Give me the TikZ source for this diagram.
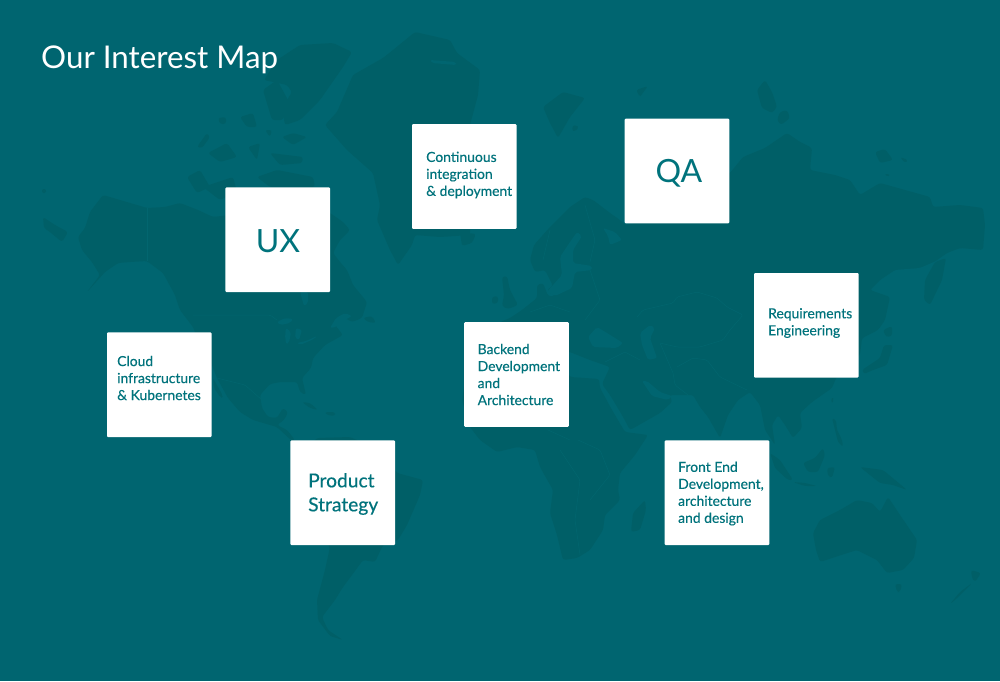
\documentclass[tikz,border=0pt]{standalone}
\usepackage{fontspec}
\setmainfont{Lato}
\newfontfamily\medfont{Lato}[FakeBold=0.35]
\definecolor{bgteal}{HTML}{006570}
\definecolor{landteal}{HTML}{005F67}
\definecolor{lineteal}{HTML}{02666F}
\definecolor{inkteal}{HTML}{00737C}
\tikzset{
  land/.style={fill=landteal,draw=none,rounded corners=2.5pt},
  sea/.style={fill=bgteal,draw=none,rounded corners=2pt},
  border/.style={draw=lineteal,line width=0.5pt,rounded corners=1.5pt},
  card/.style={fill=white,draw=none,rounded corners=1pt,minimum width=104.6pt,minimum height=104.6pt,inner sep=0pt},
  small/.style={text=inkteal,font=\medfont\fontsize{13.9}{17}\selectfont,align=left,anchor=west,inner sep=0pt},
  mid/.style={text=inkteal,font=\medfont\fontsize{19.2}{24}\selectfont,align=left,anchor=west,inner sep=0pt},
  big/.style={text=inkteal,font=\fontsize{32}{36}\selectfont,anchor=center,inner sep=0pt}
}
\begin{document}
\begin{tikzpicture}[x=1pt,y=-1pt]
\useasboundingbox (0,0) rectangle (1000,681);
\fill[bgteal] (0,0) rectangle (1000,681);
% North America
\fill[land] (103,195) -- (120,200) -- (147,208) -- (165,207) -- (180,203) -- (198,210) -- (213,217) -- (230,215) -- (290,205) -- (330,213) -- (343,222) -- (350,230) -- (340,240) -- (333,253) -- (340,262) -- (347,270) -- (353,285) -- (367,302) -- (362,318) -- (352,322) -- (345,318) -- (335,325) -- (343,335) -- (325,345) -- (313,358) -- (311,368) -- (302,378) -- (306,395) -- (300,392) -- (297,382) -- (280,382) -- (270,384) -- (260,395) -- (262,408) -- (268,417) -- (277,418) -- (283,408) -- (288,412) -- (284,420) -- (277,425) -- (287,430) -- (295,440) -- (292,441) -- (277,427) -- (253,420) -- (240,412) -- (228,398) -- (217,378) -- (210,360) -- (200,345) -- (193,327) -- (180,310) -- (175,295) -- (163,273) -- (147,261) -- (130,262) -- (118,263) -- (105,272) -- (87,292) -- (100,275) -- (92,262) -- (82,250) -- (78,237) -- (85,228) -- (90,212) -- cycle;
\fill[land] (213,378) -- (223,396) -- (221,398) -- (214,388) -- cycle;
% Great Lakes and bays
\fill[sea] (277,322) -- (285,318) -- (293,319) -- (290,323) -- (280,325) -- cycle;
\fill[sea] (286,328) -- (291,332) -- (289,343) -- (286,344) -- (285,335) -- cycle;
\fill[sea] (296,328) -- (302,330) -- (299,340) -- (295,338) -- cycle;
\fill[sea] (297,343) -- (306,341) -- (317,336) -- (314,339) -- (300,345) -- cycle;
\fill[sea] (330,328) -- (336,318) -- (345,313) -- (352,316) -- (345,320) -- (336,327) -- cycle;
\fill[sea] (300,292) -- (308,292) -- (308,303) -- (304,306) -- cycle;
\fill[land] (363,318) -- (372,316) -- (376,323) -- (368,322) -- cycle;
% Arctic islands
\fill[land] (264,80) -- (277,60) -- (300,45) -- (333,43) -- (352,52) -- (343,67) -- (320,100) -- (300,120) -- (285,125) -- (282,108) -- (292,92) -- (287,85) -- cycle;
\fill[land] (263,90) -- (277,80) -- (288,100) -- (283,120) -- (272,120) -- cycle;
\fill[land] (187,177) -- (200,170) -- (210,187) -- (197,193) -- cycle;
\fill[land] (203,187) -- (233,177) -- (237,192) -- (220,200) -- cycle;
\fill[land] (197,147) -- (207,133) -- (210,137) -- (202,148) -- cycle;
\fill[land] (208,153) -- (227,143) -- (237,157) -- (220,162) -- cycle;
\fill[land] (240,117) -- (253,113) -- (257,127) -- (247,127) -- cycle;
\fill[land] (248,147) -- (260,143) -- (257,160) -- cycle;
\fill[land] (270,153) -- (303,157) -- (302,163) -- (280,165) -- cycle;
\fill[land] (282,137) -- (293,133) -- (307,137) -- (293,145) -- cycle;
\fill[land] (257,177) -- (277,170) -- (313,177) -- (315,187) -- (270,187) -- cycle;
\fill[land] (218,118) -- (226,117) -- (226,124) -- (220,124) -- cycle;
\fill[land] (265,130) -- (272,130) -- (270,137) -- cycle;
% Chukotka on the left edge
\fill[land] (43,217) -- (55,225) -- (68,232) -- (62,242) -- (50,232) -- (44,228) -- cycle;
\fill[land] (44,191) circle (2);
% Greenland
\fill[land] (393,50) -- (415,32) -- (450,40) -- (457,53) -- (480,70) -- (478,95) -- (470,125) -- (470,235) -- (440,237) -- (415,235) -- (412,245) -- (398,265) -- (390,250) -- (377,220) -- (380,205) -- (373,173) -- (347,150) -- (325,125) -- (337,112) -- (353,75) -- (383,58) -- cycle;
\fill[sea] (430,60) -- (456,62) -- (456,65) -- (432,63) -- cycle;
\fill[land] (460,232) -- (476,234) -- (472,243) -- (462,246) -- cycle;
% Eurasia
\fill[land] (530,260) -- (534,245) -- (550,227) -- (570,207) -- (585,197) -- (593,200) -- (610,213) -- (620,220) -- (625,225) -- (640,222) -- (700,190) -- (730,173) -- (743,157) -- (765,148) -- (787,133) -- (800,142) -- (812,148) -- (810,170) -- (835,175) -- (850,180) -- (860,195) -- (880,183) -- (905,190) -- (930,197) -- (933,207) -- (960,205) -- (983,208) -- (985,225) -- (983,250) -- (960,248) -- (947,253) -- (930,265) -- (913,270) -- (895,270) -- (880,280) -- (870,290) -- (890,297) -- (885,320) -- (878,330) -- (862,338) -- (860,355) -- (850,362) -- (836,378) -- (832,388) -- (812,402) -- (800,413) -- (802,428) -- (793,438) -- (785,425) -- (778,415) -- (772,425) -- (775,445) -- (765,430) -- (760,405) -- (750,392) -- (738,400) -- (728,415) -- (720,438) -- (708,417) -- (700,407) -- (693,395) -- (670,395) -- (672,402) -- (660,413) -- (630,430) -- (622,415) -- (610,395) -- (602,384) -- (610,367) -- (590,360) -- (570,352) -- (540,350) -- (500,350) -- (490,340) -- (500,322) -- (510,318) -- (522,310) -- (537,298) -- (537,285) -- (543,283) -- (548,296) -- (555,296) -- (547,290) -- (553,286) -- (545,270) -- (535,272) -- cycle;
% UK, Ireland
\fill[land] (502,277) -- (507,276) -- (510,290) -- (518,305) -- (508,309) -- (502,306) -- (504,295) -- cycle;
\fill[land] (492,297) -- (498,296) -- (498,303) -- (492,304) -- cycle;
% Inner seas of Eurasia
\fill[sea] (577,232) -- (582,236) -- (573,250) -- (573,263) -- (592,266) -- (592,270) -- (575,272) -- (572,288) -- (555,296) -- (547,292) -- (553,285) -- (562,275) -- (560,257) -- (568,245) -- cycle;
\fill[sea] (603,228) -- (615,232) -- (622,240) -- (610,245) -- (608,236) -- cycle;
\fill[sea] (588,337) -- (597,327) -- (607,333) -- (623,343) -- (617,348) -- (593,347) -- cycle;
\fill[sea] (640,333) -- (650,325) -- (655,328) -- (650,338) -- (657,358) -- (648,360) -- (642,345) -- cycle;
\fill[sea] (642,381) -- (647,381) -- (660,392) -- (672,396) -- (668,400) -- (652,396) -- cycle;
\fill[sea] (950,255) -- (945,262) -- (925,272) -- (910,275) -- (885,290) -- (878,285) -- (895,270) -- (920,268) -- cycle;
% Sakhalin, Japan, Kurils
\fill[land] (925,280) -- (935,262) -- (946,258) -- (942,280) -- (930,305) -- (924,300) -- cycle;
\fill[land] (893,345) -- (887,365) -- (873,370) -- (864,374) -- (862,370) -- (880,358) -- (884,345) -- cycle;
\fill[land] (883,330) -- (892,326) -- (892,336) -- (886,337) -- cycle;
% Africa
\fill[land] (470,350) -- (530,352) -- (565,368) -- (570,377) -- (585,378) -- (599,379) -- (600,388) -- (612,410) -- (625,432) -- (648,435) -- (635,455) -- (620,473) -- (618,490) -- (620,500) -- (605,515) -- (603,530) -- (590,550) -- (577,558) -- (563,560) -- (557,535) -- (550,513) -- (553,490) -- (540,467) -- (535,450) -- (517,447) -- (497,452) -- (480,440) -- (470,427) -- (462,400) -- cycle;
% Madagascar
\fill[land] (645,500) -- (646,510) -- (640,530) -- (631,532) -- (633,513) -- cycle;
% South America
\fill[land] (317,438) -- (350,437) -- (380,450) -- (397,473) -- (423,480) -- (420,495) -- (407,525) -- (398,540) -- (383,545) -- (375,562) -- (363,560) -- (352,575) -- (343,587) -- (335,600) -- (322,617) -- (328,630) -- (343,640) -- (330,636) -- (318,620) -- (317,600) -- (325,570) -- (330,547) -- (310,520) -- (295,490) -- (300,455) -- cycle;
% Islands of the Caribbean
\fill[land] (302,402) -- (310,403) -- (318,410) -- (310,408) -- cycle;
\fill[land] (325,412) -- (335,412) -- (335,416) -- (327,415) -- cycle;
% Arctic Russia
\fill[land] (757,90) -- (765,80) -- (772,92) -- (777,107) -- (772,113) -- (762,108) -- cycle;
\fill[land] (780,112) -- (787,110) -- (790,118) -- (781,125) -- (777,120) -- cycle;
\fill[land] (543,107) -- (563,92) -- (585,98) -- (570,117) -- (558,138) -- (550,123) -- cycle;
\fill[land] (572,126) -- (576,125) -- (579,128) -- (573,132) -- cycle;
\fill[land] (636,90) -- (648,86) -- (642,94) -- (640,97) -- cycle;
\fill[land] (875,152) -- (885,149) -- (893,160) -- (880,163) -- cycle;
\fill[land] (900,157) -- (908,160) -- (905,163) -- cycle;
\fill[land] (884,174) -- (890,174) -- (888,177) -- cycle;
% South-East Asia
\fill[land] (770,453) -- (780,460) -- (793,480) -- (788,480) -- (775,468) -- cycle;
\fill[land] (793,482) -- (805,483) -- (817,486) -- (805,486) -- cycle;
\fill[land] (803,463) -- (815,458) -- (823,448) -- (825,455) -- (818,472) -- (808,472) -- cycle;
\fill[land] (827,468) -- (835,467) -- (832,478) -- (828,476) -- cycle;
\fill[land] (832,418) -- (836,420) -- (837,430) -- (842,440) -- (843,447) -- (838,442) -- cycle;
\fill[land] (831,398) -- (834,398) -- (832,404) -- cycle;
\fill[land] (860,467) -- (883,470) -- (895,480) -- (907,490) -- (893,485) -- (880,483) -- (870,475) -- cycle;
% Australia
\fill[land] (813,533) -- (820,520) -- (840,510) -- (857,500) -- (872,503) -- (880,512) -- (888,497) -- (900,515) -- (917,540) -- (914,558) -- (903,570) -- (887,573) -- (877,560) -- (857,550) -- (838,556) -- (820,562) -- (816,550) -- cycle;
\fill[land] (895,584) -- (902,584) -- (900,592) -- (897,592) -- cycle;
% New Zealand
\fill[land] (971,570) -- (981,573) -- (975,582) -- (972,578) -- cycle;
\fill[land] (972,583) -- (960,595) -- (955,600) -- (950,604) -- (960,592) -- cycle;
% Borders
\draw[border] (147,208) -- (147,261);
\draw[border] (193,315) -- (270,315) -- (277,320);
\draw[border] (217,378) -- (245,385) -- (262,400);
\draw[border] (578,440) -- (600,450) -- (610,475) -- (590,500);
\draw[border] (560,450) -- (580,480) -- (575,520) -- (580,555);
\draw[border] (548,430) -- (570,440);
\draw[border] (637,317) -- (643,310) -- (673,303) -- (677,297) -- (697,292) -- (717,298) -- (727,307) -- (743,315) -- (730,330) -- (723,340) -- (700,347) -- (677,347) -- (660,343);
\draw[border] (677,367) -- (693,358) -- (707,360) -- (720,377) -- (747,390);
\draw[border] (673,373) -- (675,385) -- (688,395);
\draw[border] (660,343) -- (673,373);
\draw[border] (605,362) -- (625,352) -- (640,360);
\draw[border] (590,270) -- (600,300) -- (585,320);
\draw[border] (550,230) -- (543,260);
\draw[border] (585,205) -- (595,240) -- (590,262);
\draw[border] (530,312) -- (550,305) -- (570,312);
% Cards
\node[card] (ci) at (464.3,176.5) {};
\node[card] (qa) at (677,171) {};
\node[card] (ux) at (277.7,239.7) {};
\node[card] (req) at (806.3,325.3) {};
\node[card] (cloud) at (159.3,384.7) {};
\node[card] (back) at (516.5,374.5) {};
\node[card] (prod) at (342.7,492.7) {};
\node[card] (front) at (717,492.7) {};
% Labels
\node[anchor=west,text=white,font=\fontsize{31.3}{36}\selectfont,inner sep=0pt] (title) at (41,60) {Our Interest Map};
\node[small] (lci) at (426,175) {Continuous\\integration\\\&~deployment};
\node[big] (lqa) at (679,173) {QA};
\node[big] (lux) at (278,241.5) {UX};
\node[small] (lreq) at (768,323) {Requirements\\Engineering};
\node[small] (lcloud) at (117,378) {Cloud\\infrastructure\\\&~Kubernetes};
\node[small] (lback) at (477.5,374.5) {Backend\\Development\\and\\Architecture};
\node[mid] (lprod) at (308,494) {Product\\Strategy};
\node[small] (lfront) at (678,493.5) {Front End\\Development,\\architecture\\and design};
\end{tikzpicture}
\end{document}
